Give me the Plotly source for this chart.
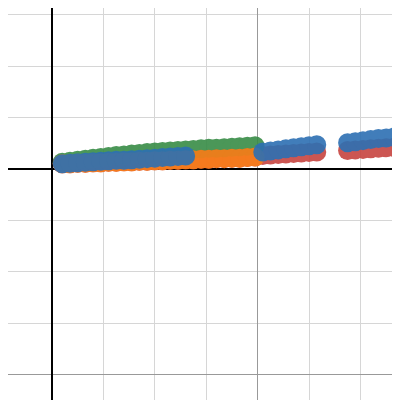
import plotly.graph_objects as go

# point data
xa = [0.2, 0.35, 0.5, 0.65, 0.8, 0.95, 1.1, 1.25, 1.4, 1.55, 1.7, 1.85, 2.0, 2.15, 2.3, 2.45, 2.6]
xb = [2.75, 2.9, 3.05, 3.2, 3.35, 3.5, 3.65, 3.8, 3.95]
xc = [4.1, 4.25, 4.4, 4.55, 4.7, 4.85, 5.0, 5.15]
xd = [5.75, 5.9, 6.05, 6.2, 6.35, 6.5, 6.65, 6.8]

blue1 = [0.10, 0.11, 0.12, 0.13, 0.14, 0.15, 0.16, 0.17, 0.17, 0.18, 0.19, 0.20, 0.21, 0.22, 0.23, 0.24, 0.25]
green = [0.13, 0.15, 0.17, 0.19, 0.21, 0.22, 0.24, 0.26, 0.27, 0.29, 0.30, 0.32, 0.33, 0.34, 0.35, 0.36, 0.37,
         0.38, 0.39, 0.40, 0.40, 0.41, 0.42, 0.43, 0.44, 0.45]
orange = [0.10, 0.10, 0.11, 0.11, 0.12, 0.12, 0.13, 0.13, 0.14, 0.14, 0.15, 0.15, 0.16, 0.16, 0.17, 0.17, 0.18,
          0.18, 0.19, 0.19, 0.20, 0.20, 0.21, 0.21, 0.22, 0.23]
red = orange + [0.26, 0.27, 0.28, 0.29, 0.30, 0.31, 0.32, 0.33] + [0.36, 0.37, 0.38, 0.39, 0.40, 0.41, 0.42, 0.43]
blue2 = [0.33, 0.35, 0.37, 0.39, 0.41, 0.43, 0.45, 0.47]
blue3 = [0.51, 0.53, 0.55, 0.57, 0.59, 0.60, 0.62, 0.64]

def pts(x, y, color):
    return go.Scatter(x=x, y=y, mode="markers", opacity=0.9,
                      marker=dict(size=19, color=color, line=dict(width=0)))

fig = go.Figure()
fig.add_trace(pts(xa + xb + xc + xd, red, "#c74440"))
fig.add_trace(pts(xa + xb, green, "#388c46"))
fig.add_trace(pts(xa + xb, orange, "#fa7e19"))
fig.add_trace(pts(xa, blue1, "#2d70b3"))
fig.add_trace(pts(xc, blue2, "#2d70b3"))
fig.add_trace(pts(xd, blue3, "#2d70b3"))

ax = dict(showticklabels=False, ticks="", dtick=4, tick0=0, gridcolor="#999", gridwidth=1,
          minor=dict(dtick=1, gridcolor="#d6d6d6", gridwidth=1, showgrid=True),
          zeroline=True, zerolinecolor="black", zerolinewidth=2, showline=False, fixedrange=True)
# ranges shifted to account for the page's 8px body margin
fig.update_xaxes(range=[-0.855, 6.925], **ax)
fig.update_yaxes(range=[-4.65, 3.13], **ax)
fig.update_layout(width=400, height=400, margin=dict(l=0, r=0, t=0, b=0),
                  plot_bgcolor="white", paper_bgcolor="white", showlegend=False)
fig.write_html("out.html")
